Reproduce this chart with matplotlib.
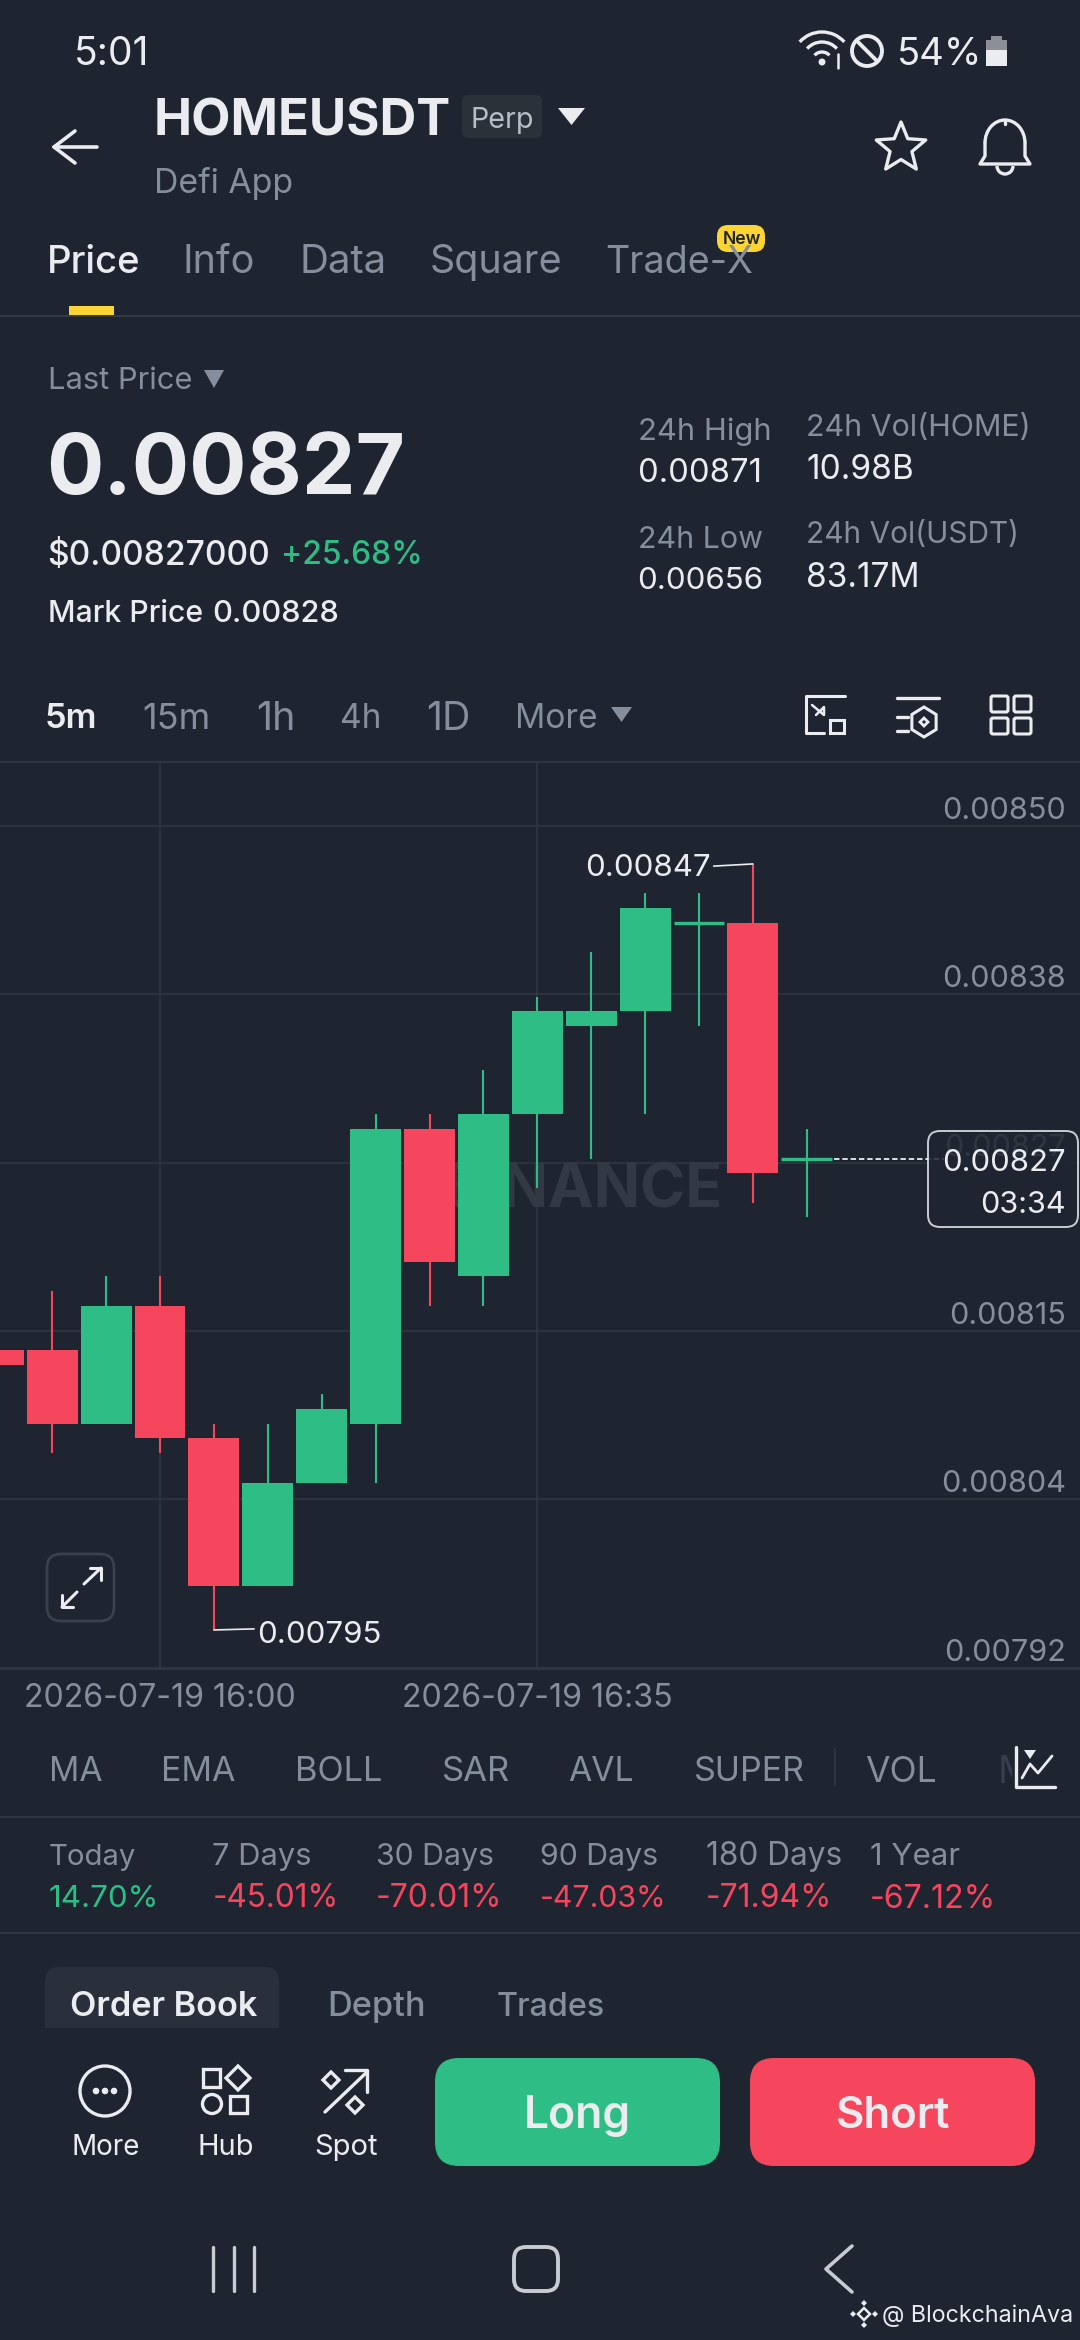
import numpy as np
import matplotlib
matplotlib.use('Agg')
import matplotlib.pyplot as plt
from matplotlib.patches import Rectangle, FancyBboxPatch, Circle, Polygon, Arc

plt.rcParams['font.family'] = ['Inter', 'DejaVu Sans']

BG = '#1E2530'
GREEN = '#2EBD85'
RED = '#F6465D'
WHITE = '#EAECEF'
GREY = '#848E9C'
LINE = '#2F3640'

# candles, 5 minute bars, index 0 is 16:00
idx = [-3, -2, -1, 0, 1, 2, 3, 4, 5, 6, 7, 8, 9, 10, 11, 12]
opens = [0.00814, 0.00814, 0.00809, 0.00817, 0.00808, 0.00798, 0.00805, 0.00809, 0.00829, 0.00819, 0.00830, 0.00836, 0.00837, 0.00843, 0.00843, 0.00827]
closes = [0.00813, 0.00809, 0.00817, 0.00808, 0.00798, 0.00805, 0.00810, 0.00829, 0.00820, 0.00830, 0.00837, 0.00837, 0.00844, 0.00843, 0.00826, 0.00827]
highs = [0.00814, 0.00818, 0.00819, 0.00819, 0.00809, 0.00809, 0.00811, 0.00830, 0.00830, 0.00833, 0.00838, 0.00841, 0.00845, 0.00845, 0.00847, 0.00829]
lows = [0.00813, 0.00807, 0.00809, 0.00807, 0.00795, 0.00798, 0.00805, 0.00805, 0.00817, 0.00817, 0.00825, 0.00827, 0.00830, 0.00836, 0.00824, 0.00823]
grid_prices = [0.008496, 0.0083815, 0.0082672, 0.0081529, 0.0080386, 0.0079243]
price_labels = ['0.00850', '0.00838', '0.00827', '0.00815', '0.00804', '0.00792']
time_ticks = [0, 7]
time_labels = ['2026-07-19 16:00', '2026-07-19 16:35']
last_price = 0.00827

periods = ['Today', '7 Days', '30 Days', '90 Days', '180 Days', '1 Year']
period_changes = ['14.70%', '-45.01%', '-70.01%', '-47.03%', '-71.94%', '-67.12%']

W, H = 1080, 2340
fig = plt.figure(figsize=(W / 100, H / 100), dpi=100, facecolor=BG)

# chart area, pixel rows 762 to 1669
ax = fig.add_axes([0, (H - 1669) / H, 1, (1669 - 762) / H], facecolor=BG)
ax.set_xlim(-160 / 53.9, 920 / 53.9)
ax.set_ylim(0.0079235, 0.0085392)
for s in ['top', 'left', 'right']:
    ax.spines[s].set_visible(False)
ax.spines['bottom'].set_color(LINE)
ax.spines['bottom'].set_linewidth(1.5)
ax.set_yticks(grid_prices)
ax.set_yticklabels([])
ax.set_xticks(time_ticks)
ax.set_xticklabels(time_labels, color=GREY, fontsize=23.2)
ax.tick_params(length=0)
ax.tick_params(axis='x', pad=10)
ax.grid(True, color=LINE, lw=1.2, zorder=0)
ax.set_axisbelow(True)

ax.text(5.26, 0.0082475, 'BINANCE', color='#323944', fontsize=44, fontweight='bold',
        ha='left', va='center', zorder=1)

for i, o, c, h, l in zip(idx, opens, closes, highs, lows):
    col = RED if c < o else GREEN
    ax.vlines(i, l, h, color=col, lw=1.5, zorder=2)
    if o == c:
        ax.hlines(o, i - 0.47, i + 0.47, color=col, lw=2.4, zorder=3)
    else:
        ax.bar(i, abs(c - o), bottom=min(o, c), width=0.945, color=col, zorder=3)

# price scale labels sit just above their grid lines
trans = ax.get_yaxis_transform()
for p, lab in zip(grid_prices, price_labels):
    ax.annotate(lab, (0.987, p), xycoords=trans, xytext=(0, 0.72), textcoords='offset points',
                color=GREY, fontsize=22, ha='right', va='bottom', zorder=4)

# high and low markers
ax.annotate('0.00847', (11, 0.00847), xytext=(-42 * 0.72, -4 * 0.72), textcoords='offset points', color=WHITE,
            fontsize=22.5, ha='right', va='center',
            arrowprops=dict(arrowstyle='-', color=WHITE, lw=1.2, shrinkA=0, shrinkB=0, relpos=(1, 0.56)), zorder=5)
ax.annotate('0.00795', (1, 0.00795), xytext=(43 * 0.72, -5 * 0.72), textcoords='offset points', color=WHITE,
            fontsize=22.5, ha='left', va='center',
            arrowprops=dict(arrowstyle='-', color=WHITE, lw=1.2, shrinkA=0, shrinkB=0, relpos=(0, 0.72)), zorder=5)

# last price dashed line
ax.plot([12.5, 14.55], [last_price, last_price], color=WHITE, lw=1.3, ls=(0, (3, 1.6)), zorder=4)

# everything else is drawn in pixel coordinates, y going down
ui = fig.add_axes([0, 0, 1, 1], facecolor='none')
ui.set_xlim(0, W)
ui.set_ylim(H, 0)
ui.axis('off')
rend = fig.canvas.get_renderer()


def txt(s, x0, x1, yc, color=WHITE, weight='normal', size=20, alpha=1):
    # x0, x1 is the span the text has to fill, yc the middle of its capitals
    x0, x1 = x0 - 0.5, x1 + 2
    t = ui.text(x0, yc, s, color=color, fontweight=weight, fontsize=size, ha='left', va='baseline', alpha=alpha)
    w = t.get_window_extent(rend).width
    size = size * (x1 - x0) / w
    t.set_fontsize(size)
    t.set_y(yc + 0.36 * size / 0.72)
    return t


def ln(xs, ys, color=WHITE, lw=2.0, **kw):
    ui.plot(xs, ys, color=color, lw=lw, solid_capstyle='round', solid_joinstyle='round', **kw)


def rbox(x0, y0, x1, y1, r, **kw):
    p = FancyBboxPatch((x0 + r, y0 + r), x1 - x0 - 2 * r, y1 - y0 - 2 * r,
                       boxstyle=f'round,pad={r},rounding_size={r}', **kw)
    ui.add_patch(p)


def tri(x0, x1, y0, y1, color):
    ui.add_patch(Polygon([(x0, y0), (x1, y0), ((x0 + x1) / 2, y1)], color=color, lw=0))


def diamond(cx, cy, r, lw=2.4):
    ui.add_patch(Polygon([(cx - r, cy), (cx, cy - r), (cx + r, cy), (cx, cy + r)], fill=False, ec=WHITE, lw=lw))


# status bar
txt('5:01', 74, 147, 51, WHITE)
for r in [10, 20, 30]:
    ui.add_patch(Arc((822, 62), 2 * r, 2 * r, theta1=222, theta2=318, color=WHITE, lw=2.4))
ui.add_patch(Circle((822, 62), 2.8, color=WHITE))
ln([838, 838], [68, 54], lw=1.8)
ui.add_patch(Circle((867, 51), 15, fill=False, ec=WHITE, lw=2.8))
ln([857, 877], [41, 61], lw=2.8)
txt('54%', 897, 980, 51, WHITE)
ui.add_patch(Rectangle((986, 40), 21, 10, color='#8C9096', lw=0))
ui.add_patch(Rectangle((986, 50), 21, 16, color=WHITE, lw=0))
ui.add_patch(Rectangle((991, 36), 11, 4, color='#8C9096', lw=0))

# header
ln([54, 97], [147, 147], lw=2.6)
ln([75, 54, 75], [131, 147, 163], lw=2.6)
txt('HOMEUSDT', 154, 449, 117, WHITE, 'bold')
rbox(462, 95, 542, 138, 6, fc='#2B3139', ec='none')
txt('Perp', 471, 532, 118, '#B7BDC6')
tri(558, 585, 108, 125, WHITE)
txt('Defi App', 154, 290, 181, GREY)
ang = np.deg2rad(np.arange(-90, 270, 36))
rad = np.where(np.arange(10) % 2 == 0, 26, 11.5)
ui.add_patch(Polygon(np.c_[901 + rad * np.cos(ang), 148 + rad * np.sin(ang)], fill=False, ec=WHITE, lw=2.4, joinstyle='round'))
ui.add_patch(Arc((1005, 143), 40, 46, theta1=180, theta2=360, color=WHITE, lw=2.4))
ln([985, 985, 980, 1030, 1025, 1025], [143, 156, 164, 164, 156, 143], lw=2.4)
ui.add_patch(Arc((1005, 166), 16, 16, theta1=0, theta2=180, color=WHITE, lw=2.4))
ln([1005, 1005], [120, 124], lw=2.4)

# tabs
for s, a, b, col, wt in [('Price', 47, 138, WHITE, 'medium'), ('Info', 183, 253, GREY, 'normal'),
                         ('Data', 300, 385, GREY, 'normal'), ('Square', 430, 560, GREY, 'normal'),
                         ('Trade-X', 606, 752, GREY, 'normal')]:
    txt(s, a, b, 259, col, wt)
rbox(717, 225, 765, 252, 11, fc='#FCD535', ec='none')
txt('New', 723, 759, 238, '#1E2329', 'semibold')
ui.add_patch(Rectangle((69, 306), 45, 9, color='#FCD535', lw=0))
ln([0, W], [315.5, 315.5], color='#343B46', lw=1.4)

# price block
txt('Last Price', 48, 190, 378, GREY)
tri(204, 224, 370, 388, GREY)
txt('0.00827', 47, 404, 463, WHITE, 'bold')
txt('$0.00827000', 48, 268, 553, WHITE, 'medium')
txt('+25.68%', 281, 420, 553, GREEN, 'medium')
txt('Mark Price', 48, 201, 611, WHITE, 'medium')
txt('0.00828', 213, 337, 611, WHITE, 'medium')
txt('24h High', 638, 769, 429, GREY)
txt('24h Vol(HOME)', 807, 1030, 425, GREY)
txt('0.00871', 638, 759, 470, WHITE)
txt('10.98B', 807, 912, 467, WHITE)
txt('24h Low', 638, 761, 537, GREY)
txt('24h Vol(USDT)', 807, 1018, 532, GREY)
txt('0.00656', 638, 761, 578, WHITE)
txt('83.17M', 807, 918, 575, WHITE)

# timeframe row
txt('5m', 45, 95, 716, WHITE, 'semibold')
for s, a, b in [('15m', 143, 209), ('1h', 257, 294), ('4h', 340, 379), ('1D', 427, 469), ('More', 516, 596)]:
    txt(s, a, b, 716, GREY)
tri(611, 632, 707, 722, GREY)
ln([845, 806, 806, 824], [696, 696, 733, 733], lw=2.2)
ui.add_patch(Rectangle((830, 720), 14, 13, fill=False, ec=WHITE, lw=2.2))
ln([812, 824, 824, 816], [705, 715, 707, 715], lw=1.8)
ln([897, 939], [698, 698], lw=2.4)
ln([897, 908], [717, 717], lw=2.4)
ln([897, 908], [731, 731], lw=2.4)
a6 = np.deg2rad(np.arange(-90, 270, 60))
ui.add_patch(Polygon(np.c_[924 + 14 * np.cos(a6), 722 + 15 * np.sin(a6)], fill=False, ec=WHITE, lw=2.2))
diamond(924, 722, 4, lw=2)
for x, y in [(991, 696), (1014, 696), (991, 718), (1014, 718)]:
    rbox(x, y, x + 17, y + 16, 2, fc='none', ec=WHITE, lw=2.2)
ln([0, W], [762, 762], color=LINE, lw=1.5)

# last price box, the scale label shows faintly through it
rbox(928, 1131, 1078, 1227, 12, fc=BG, ec=WHITE, lw=1.4, alpha=0.84, zorder=6)
txt('0.00827', 943, 1064, 1160, WHITE).set_zorder(7)
txt('03:34', 981, 1064, 1202, WHITE).set_zorder(7)

# expand button
rbox(47, 1554, 114, 1621, 14, fc=BG, ec='#3A414B', lw=2)
ln([84, 101], [1584, 1568], lw=2.2)
ln([90, 101, 101], [1568, 1568, 1580], lw=2.2)
ln([77, 62], [1592, 1607], lw=2.2)
ln([62, 62, 73], [1595, 1607, 1607], lw=2.2)

# indicator row
for s, a, b in [('MA', 49, 100), ('EMA', 162, 234), ('BOLL', 296, 381), ('SAR', 442, 508),
                ('AVL', 569, 632), ('SUPER', 694, 803), ('VOL', 866, 935)]:
    txt(s, a, b, 1769, GREY)
ln([835, 835], [1749, 1785], color=LINE, lw=1.4)
txt('M', 998, 1030, 1769, GREY, alpha=0.25)
ui.add_patch(Rectangle((1012, 1740), 68, 60, color=BG, lw=0, zorder=3))
ln([1016, 1016, 1055], [1747, 1787, 1787], lw=2.4, zorder=4)
ln([1022, 1030, 1038, 1052], [1778, 1764, 1773, 1756], lw=2, zorder=4)
ui.add_patch(Polygon([(1024, 1750), (1036, 1750), (1030, 1759)], color=WHITE, lw=0, zorder=4))
ln([0, W], [1817, 1817], color=LINE, lw=1.5)

# period performance
xs = [49, 213, 376, 540, 706, 870]
lab_w = [85, 97, 116, 116, 134, 88]
for x, w, p, c in zip(xs, lab_w, periods, period_changes):
    txt(p, x, x + w, 1854, GREY)
    txt(c, x, x + (108 if c == '14.70%' else 124), 1896, RED if c.startswith('-') else GREEN)
ln([0, W], [1933, 1933], color=LINE, lw=1.5)

# order book tabs
ui.add_patch(FancyBboxPatch((59, 1981), 206, 60, boxstyle='round,pad=14,rounding_size=14', fc='#29303B', ec='none'))
ui.add_patch(Rectangle((40, 2028), 250, 30, color=BG, lw=0))
txt('Order Book', 70, 255, 2004, WHITE, 'semibold')
txt('Depth', 328, 424, 2004, GREY, 'medium')
txt('Trades', 497, 603, 2004, GREY, 'medium')

# bottom buttons
ui.add_patch(Circle((105, 2091), 25, fill=False, ec=WHITE, lw=2.4))
for dx in [-9, 0, 9]:
    ui.add_patch(Circle((105 + dx, 2091), 2.6, color=WHITE))
ui.add_patch(Rectangle((203, 2069), 17, 18, fill=False, ec=WHITE, lw=2.4))
diamond(238, 2078, 12)
ui.add_patch(Circle((212, 2104), 9.5, fill=False, ec=WHITE, lw=2.4))
ui.add_patch(Rectangle((230, 2096), 17, 17, fill=False, ec=WHITE, lw=2.4))
ln([325, 367], [2112, 2072], lw=2.4)
ln([345, 367, 367], [2070, 2070, 2092], lw=2.4)
diamond(331, 2080, 8)
diamond(355, 2105, 8)
txt('More', 72, 138, 2145, WHITE)
txt('Hub', 198, 252, 2145, WHITE)
txt('Spot', 315, 376, 2145, WHITE)
rbox(435, 2058, 720, 2166, 24, fc=GREEN, ec='none')
rbox(750, 2058, 1035, 2166, 24, fc=RED, ec='none')
txt('Long', 524, 629, 2112, WHITE, 'semibold')
txt('Short', 836, 948, 2112, WHITE, 'semibold')

# navigation bar
for x in [213, 234, 254]:
    ln([x, x], [2247, 2291], color='#C8CBD0', lw=2.4)
rbox(514, 2247, 558, 2291, 12, fc='none', ec='#C8CBD0', lw=2.8)
ln([852, 826, 852], [2246, 2269, 2292], color='#C8CBD0', lw=2.6)
diamond(864, 2314, 6, lw=1.8)
for dx, dy in [(-11, 0), (11, 0), (0, -11), (0, 11)]:
    ui.add_patch(Polygon([(864 + dx - 3, 2314 + dy), (864 + dx, 2314 + dy - 3), (864 + dx + 3, 2314 + dy), (864 + dx, 2314 + dy + 3)], color=WHITE, lw=0))
txt('@ BlockchainAva', 883, 1072, 2314, WHITE)

fig.savefig('out.png', dpi=100, facecolor=BG)
